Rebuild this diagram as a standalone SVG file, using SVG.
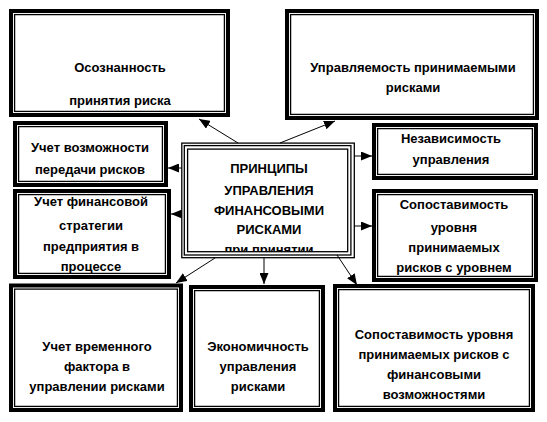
<svg xmlns="http://www.w3.org/2000/svg" width="547" height="422" viewBox="0 0 547 422">
<style>
.thick{fill:none;stroke:#000;stroke-width:4}
.thin{fill:none;stroke:#000;stroke-width:1.3}
.t{font-family:"Liberation Sans",Arial,sans-serif;font-weight:bold;font-size:13px;text-anchor:middle;fill:#000}
.c{stroke:#000;stroke-width:1;fill:none;marker-end:url(#ah)}
</style>
<defs>
<marker id="ah" markerUnits="userSpaceOnUse" markerWidth="11" markerHeight="9" refX="11" refY="4.5" orient="auto">
<path d="M0,0 L11,4.5 L0,9 z" fill="#000"/>
</marker>
<clipPath id="cclip"><rect x="188" y="150" width="159" height="101"/></clipPath>
</defs>
<rect width="547" height="422" fill="#fff"/>
<g id="connectors">
<line class="c" x1="238" y1="143" x2="199" y2="119"/>
<line class="c" x1="280" y1="143" x2="335" y2="121"/>
<line class="c" x1="182" y1="168" x2="168" y2="168"/>
<line class="c" x1="182" y1="214" x2="171" y2="214"/>
<line class="c" x1="354" y1="156" x2="372" y2="156"/>
<line class="c" x1="354" y1="226" x2="372" y2="226"/>
<line class="c" x1="215" y1="258" x2="176" y2="283"/>
<line class="c" x1="264" y1="258" x2="264" y2="284"/>
<line class="c" x1="337" y1="255" x2="357" y2="285"/>
</g>
<g id="center">
<rect x="181.8" y="143.1" width="172.5" height="114.6" class="thin"/>
<rect x="184.3" y="145.6" width="166.6" height="109.4" class="thin"/>
<rect x="187.6" y="149.1" width="160.1" height="102.6" class="thin"/>
<text class="t" x="269" y="173">ПРИНЦИПЫ</text>
<text class="t" x="269" y="195">УПРАВЛЕНИЯ</text>
<text class="t" x="269" y="215">ФИНАНСОВЫМИ</text>
<text class="t" x="269" y="234">РИСКАМИ</text>
<text class="t" x="269" y="254" clip-path="url(#cclip)">при принятии</text>
</g>
<g id="b1">
<rect x="11" y="11" width="217" height="104" class="thick"/>
<rect x="14.6" y="14.6" width="209.8" height="96.8" class="thin"/>
<text class="t" x="120" y="72">Осознанность</text>
<text class="t" x="120" y="105">принятия риска</text>
</g>
<g id="b2">
<rect x="287" y="11" width="250" height="107" class="thick"/>
<rect x="290.6" y="14.6" width="242.8" height="99.8" class="thin"/>
<text class="t" x="413" y="72">Управляемость принимаемыми</text>
<text class="t" x="413" y="92">рисками</text>
</g>
<g id="b3">
<rect x="15" y="123" width="151" height="62" class="thick"/>
<rect x="18.6" y="126.6" width="143.8" height="54.8" class="thin"/>
<text class="t" x="90" y="152">Учет возможности</text>
<text class="t" x="90" y="174">передачи  рисков</text>
</g>
<g id="b4">
<rect x="15" y="191" width="154" height="86" class="thick"/>
<rect x="18.6" y="194.6" width="146.8" height="78.8" class="thin"/>
<text class="t" x="91" y="206">Учет финансовой</text>
<text class="t" x="91" y="230">стратегии</text>
<text class="t" x="91" y="251">предприятия в</text>
<text class="t" x="91" y="271">процессе</text>
</g>
<g id="b5">
<rect x="374" y="125" width="162" height="53" class="thick"/>
<rect x="377.6" y="128.6" width="154.8" height="45.8" class="thin"/>
<text class="t" x="451" y="143">Независимость</text>
<text class="t" x="451" y="164">управления</text>
</g>
<g id="b6">
<rect x="374" y="191" width="162" height="89" class="thick"/>
<rect x="377.6" y="194.6" width="154.8" height="81.8" class="thin"/>
<text class="t" x="454" y="209">Сопоставимость</text>
<text class="t" x="454" y="232">уровня</text>
<text class="t" x="454" y="252">принимаемых</text>
<text class="t" x="454" y="272">рисков с уровнем</text>
</g>
<g id="b7">
<rect x="11" y="285.5" width="170" height="124.5" class="thick"/>
<rect x="14.6" y="289.1" width="162.8" height="117.3" class="thin"/>
<text class="t" x="97" y="351">Учет временного</text>
<text class="t" x="97" y="371">фактора в</text>
<text class="t" x="97" y="391">управлении  рисками</text>
</g>
<g id="b8">
<rect x="191" y="287" width="132" height="123" class="thick"/>
<rect x="194.6" y="290.6" width="124.8" height="115.8" class="thin"/>
<text class="t" x="258" y="351">Экономичность</text>
<text class="t" x="258" y="371">управления</text>
<text class="t" x="258" y="391">рисками</text>
</g>
<g id="b9">
<rect x="335" y="286" width="198" height="124" class="thick"/>
<rect x="338.6" y="289.6" width="190.8" height="116.8" class="thin"/>
<text class="t" x="434" y="339">Сопоставимость уровня</text>
<text class="t" x="434" y="359">принимаемых рисков с</text>
<text class="t" x="434" y="379">финансовыми</text>
<text class="t" x="434" y="399">возможностями</text>
</g>
</svg>
